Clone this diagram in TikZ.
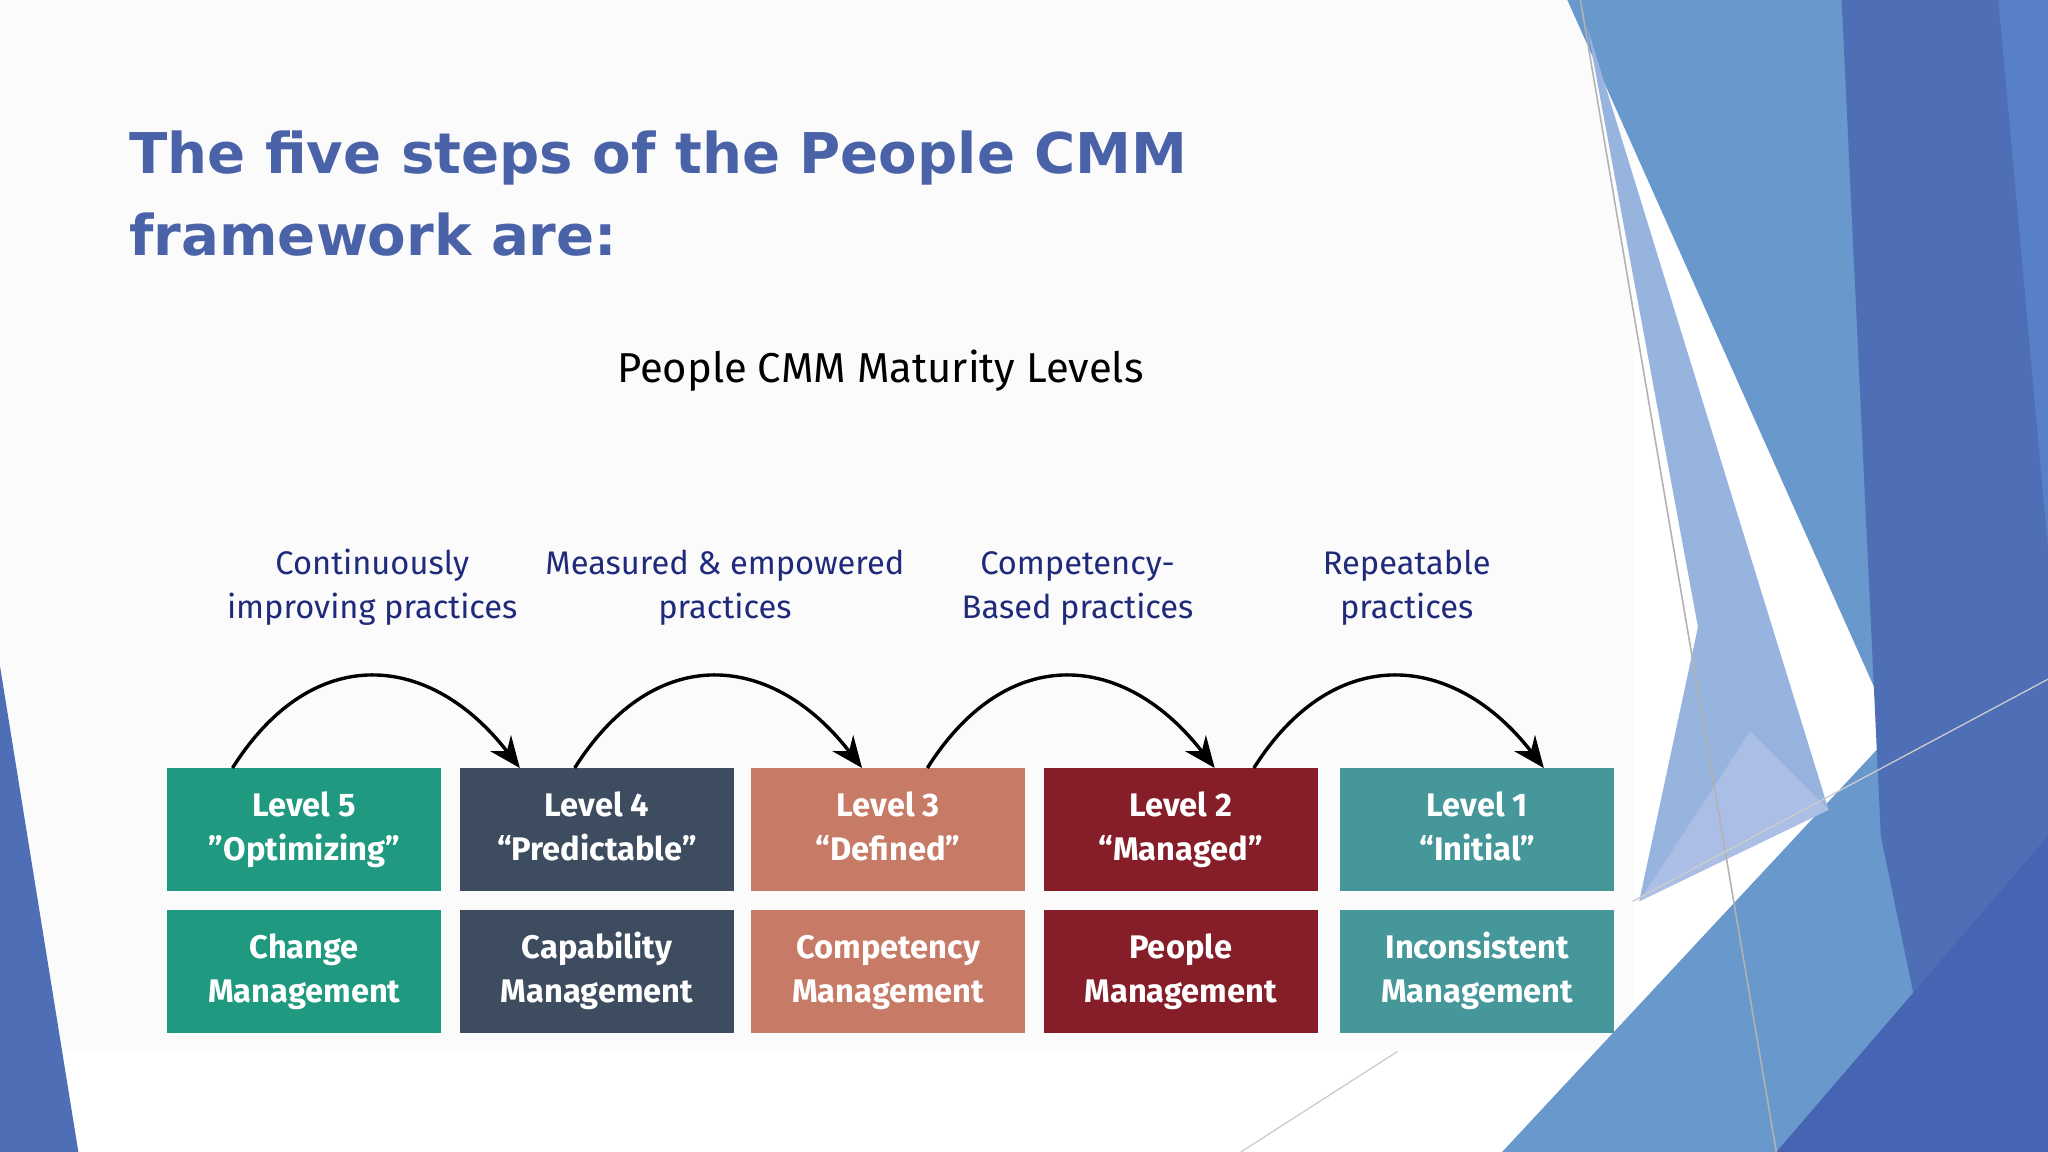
\documentclass[tikz,border=0pt]{standalone}
\usepackage{fontspec}
\setmainfont{Fira Sans}
\newfontfamily\titlefont{DejaVu Sans}
\usetikzlibrary{arrows.meta}
\definecolor{titleblue}{HTML}{4A62A8}
\definecolor{navy}{HTML}{1F2A7A}
\definecolor{cA}{HTML}{1F9A80}
\definecolor{cB}{HTML}{3E4C60}
\definecolor{cC}{HTML}{C77B66}
\definecolor{cD}{HTML}{861E2A}
\definecolor{cE}{HTML}{45979A}
\tikzset{
  box/.style={fill=#1, minimum width=105pt, minimum height=47pt, inner sep=0pt, text=white, font=\fontsize{12.5}{17}\selectfont\bfseries, align=center},
  lab/.style={text=navy, font=\fontsize{12.5}{17}\selectfont, align=center},
  arc/.style={line width=1.3pt, -{Stealth[length=12pt,width=10pt]}}
}
\begin{document}
\begin{tikzpicture}[x=0.5pt,y=-0.5pt]
\useasboundingbox (0,0) rectangle (1568,882);
\fill[white] (0,0) rectangle (1568,882);
\fill[gray!3] (0,0) rectangle (1250,805);
% right decoration
\fill[color={rgb,255:red,104;green,152;blue,204}] (1200,0) -- (1568,0) -- (1568,882) -- (1150,882) -- (1450,560) -- cycle;
\fill[color={rgb,255:red,150;green,180;blue,222}] (1215,20) -- (1400,620) -- (1255,690) -- (1300,480) -- cycle;
\fill[color={rgb,255:red,170;green,190;blue,230}] (1255,690) -- (1400,620) -- (1340,560) -- cycle;
\fill[color={rgb,255:red,78;green,110;blue,182}] (1410,0) -- (1568,0) -- (1568,882) -- (1490,882) -- (1440,640) -- cycle;
\fill[color={rgb,255:red,88;green,128;blue,200}] (1530,0) -- (1568,0) -- (1568,420) -- cycle;
\fill[color={rgb,255:red,70;green,100;blue,178}] (1360,882) -- (1568,640) -- (1568,882) -- cycle;
\draw[gray!60, line width=0.6pt] (1210,0) -- (1360,882);
\draw[gray!40, line width=0.5pt] (1250,690) -- (1568,520);
\draw[gray!40, line width=0.5pt] (950,882) -- (1070,805);
\fill[color={rgb,255:red,78;green,110;blue,182}] (0,510) -- (60,882) -- (0,882) -- cycle;
% title
\node[anchor=west, text=titleblue, font=\titlefont\fontsize{21.5}{31.5}\selectfont\bfseries, align=left] (title) at (92,148) {The five steps of the People CMM\\framework are:};
\node[font=\fontsize{16}{20}\selectfont] (sub) at (674,284) {People CMM Maturity Levels};
% boxes
\foreach \i/\x/\c/\t/\b in {5/233/cA/{\strut Level 5\\\strut ”Optimizing”}/{\strut Change\\\strut Management},
  4/457/cB/{\strut Level 4\\\strut “Predictable”}/{\strut Capability\\\strut Management},
  3/680/cC/{\strut Level 3\\\strut “Defined”}/{\strut Competency\\\strut Management},
  2/904/cD/{\strut Level 2\\\strut “Managed”}/{\strut People\\\strut Management},
  1/1131/cE/{\strut Level 1\\\strut “Initial”}/{\strut Inconsistent\\\strut Management}}{
  \node[box=\c] (L\i) at (\x,635) {\t};
  \node[box=\c] (M\i) at (\x,744) {\b};
}
% labels
\node[lab] (t5) at (285,450) {\strut Continuously\\\strut improving practices};
\node[lab] (t4) at (555,450) {\strut Measured \& empowered\\\strut practices};
\node[lab] (t3) at (825,450) {\strut Competency-\\\strut Based practices};
\node[lab] (t2) at (1077,450) {\strut Repeatable\\\strut practices};
% arcs
\coordinate (a5) at (178,588); \coordinate (b4) at (398,588);
\coordinate (a4) at (440,588); \coordinate (b3) at (660,588);
\coordinate (a3) at (710,588); \coordinate (b2) at (930,588);
\coordinate (a2) at (960,588); \coordinate (b1) at (1182,588);
\draw[arc] (a5) .. controls (240,490) and (330,500) .. (b4);
\draw[arc] (a4) .. controls (502,490) and (592,500) .. (b3);
\draw[arc] (a3) .. controls (772,490) and (862,500) .. (b2);
\draw[arc] (a2) .. controls (1022,490) and (1114,500) .. (b1);
\end{tikzpicture}
\end{document}
